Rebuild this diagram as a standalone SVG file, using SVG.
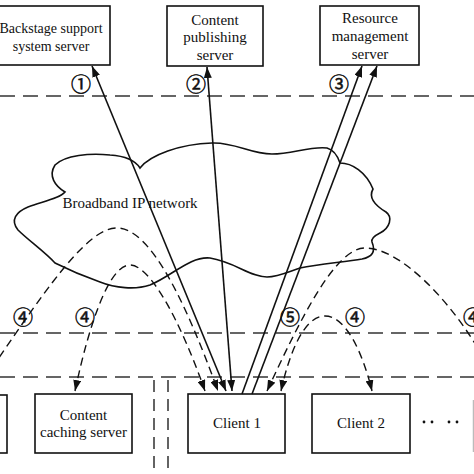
<svg xmlns="http://www.w3.org/2000/svg" width="474" height="474" viewBox="0 0 474 474">
<style>
.box{fill:#fff;stroke:#111;stroke-width:1.6}
.t{font-family:"Liberation Serif","Times New Roman",serif;font-size:15px;fill:#111;text-anchor:middle}
.hd{fill:none;stroke:#333;stroke-width:1.4;stroke-dasharray:15 8}
.vd{fill:none;stroke:#222;stroke-width:1.4;stroke-dasharray:12 7}
.sl{fill:none;stroke:#111;stroke-width:1.6}
.dl{fill:none;stroke:#111;stroke-width:1.4;stroke-dasharray:8 5}
.num{font-family:"Noto Sans CJK SC","DejaVu Sans",sans-serif;font-size:20px;fill:#111;stroke:#111;stroke-width:0.5;text-anchor:middle}
</style>
<defs>
<marker id="ah" markerUnits="userSpaceOnUse" markerWidth="11" markerHeight="8" refX="11" refY="4" orient="auto-start-reverse">
<path d="M0,0 L11,4 L0,8 z" fill="#111"/>
</marker>
</defs>
<rect width="474" height="474" fill="#fff"/>

<g id="network">
<path class="sl" stroke-width="1.5" d="M140,168 C150,155 180,144 212,143 C235,142 250,154 272,154 C292,154 310,146 327,148 C334,150 338,157 340,163 C352,163 366,172 373,189 C368,198 376,206 386,212 C393,217 390,228 380,233 C374,236 371,239 372,242 C376,252 372,257 362,259 C345,262 320,264 300,268 C288,272 278,277 267,277 C250,277 235,262 210,258 C190,256 172,276 150,285 C135,290 115,288 100,282 C80,275 65,268 55,263 C45,252 28,240 18,230 C10,220 16,212 28,207 C45,201 60,198 65,192 C55,186 48,176 55,165 C65,155 90,153 110,155 C125,156 135,160 140,168 Z"/>
<text class="t" x="130" y="208">Broadband IP network</text>
</g>

<g id="dividers">
<line class="hd" x1="0" y1="96" x2="474" y2="96"/>
<line class="hd" x1="0" y1="333" x2="474" y2="333"/>
<line class="hd" x1="0" y1="377" x2="474" y2="377"/>
<line class="vd" x1="154" y1="380" x2="154" y2="474"/>
<line class="vd" x1="168" y1="380" x2="168" y2="474"/>
</g>

<g id="backstage">
<rect class="box" x="-4" y="6" width="114" height="59"/>
<text class="t" style="font-size:14px" x="51" y="33">Backstage support</text>
<text class="t" style="font-size:14px" x="51" y="51">system server</text>
</g>
<g id="publishing">
<rect class="box" x="167" y="6" width="96" height="60"/>
<text class="t" x="215" y="25">Content</text>
<text class="t" x="215" y="42">publishing</text>
<text class="t" x="215" y="60">server</text>
</g>
<g id="resource">
<rect class="box" x="320" y="6" width="99" height="59"/>
<text class="t" x="370" y="23">Resource</text>
<text class="t" x="370" y="41">management</text>
<text class="t" x="370" y="59">server</text>
</g>
<g id="left-partial">
<rect class="box" x="-10" y="395" width="17" height="58"/>
</g>
<g id="caching">
<rect class="box" x="35" y="394" width="97" height="59"/>
<text class="t" x="83.5" y="420">Content</text>
<text class="t" x="83.5" y="437">caching server</text>
</g>
<g id="client1">
<rect class="box" x="188" y="394" width="97" height="59"/>
<text class="t" x="237" y="428">Client 1</text>
</g>
<g id="client2">
<rect class="box" x="312" y="394" width="98" height="59"/>
<text class="t" x="361" y="428">Client 2</text>
</g>
<g id="more">
<circle cx="424" cy="422" r="1.4" fill="#111"/>
<circle cx="432" cy="422" r="1.4" fill="#111"/>
<circle cx="449" cy="422" r="1.4" fill="#111"/>
<circle cx="457" cy="422" r="1.4" fill="#111"/>
<line x1="473.5" y1="400" x2="473.5" y2="452" stroke="#bbb" stroke-width="1.5"/>
</g>

<g id="connectors">
<line class="sl" x1="226" y1="391" x2="92" y2="66" marker-start="url(#ah)" marker-end="url(#ah)"/>
<line class="sl" x1="232" y1="391" x2="207" y2="67" marker-start="url(#ah)" marker-end="url(#ah)"/>
<line class="sl" x1="242" y1="394" x2="362" y2="66" marker-end="url(#ah)"/>
<line class="sl" x1="252" y1="394" x2="377" y2="66" marker-end="url(#ah)"/>
<path class="dl" d="M-8,368 C55,275 90,228 117,228 C150,228 185,300 218,391" marker-end="url(#ah)"/>
<path class="dl" d="M75,391 C90,320 110,265 130,265 C150,265 180,320 205,391" marker-start="url(#ah)" marker-end="url(#ah)"/>
<path class="dl" d="M267,391 C300,320 335,248 365,248 C400,248 450,300 480,352" marker-start="url(#ah)"/>
<path class="dl" d="M281,391 C290,350 305,316 325,316 C345,316 362,350 372,391" marker-start="url(#ah)" marker-end="url(#ah)"/>
</g>

<g id="labels">
<text class="num" x="81" y="92">①</text>
<text class="num" x="196" y="92">②</text>
<text class="num" x="339" y="92">③</text>
<text class="num" x="23" y="325">④</text>
<text class="num" x="85" y="325">④</text>
<text class="num" x="290" y="325">⑤</text>
<text class="num" x="355" y="325">④</text>
<text class="num" x="473" y="325">④</text>
</g>
</svg>
